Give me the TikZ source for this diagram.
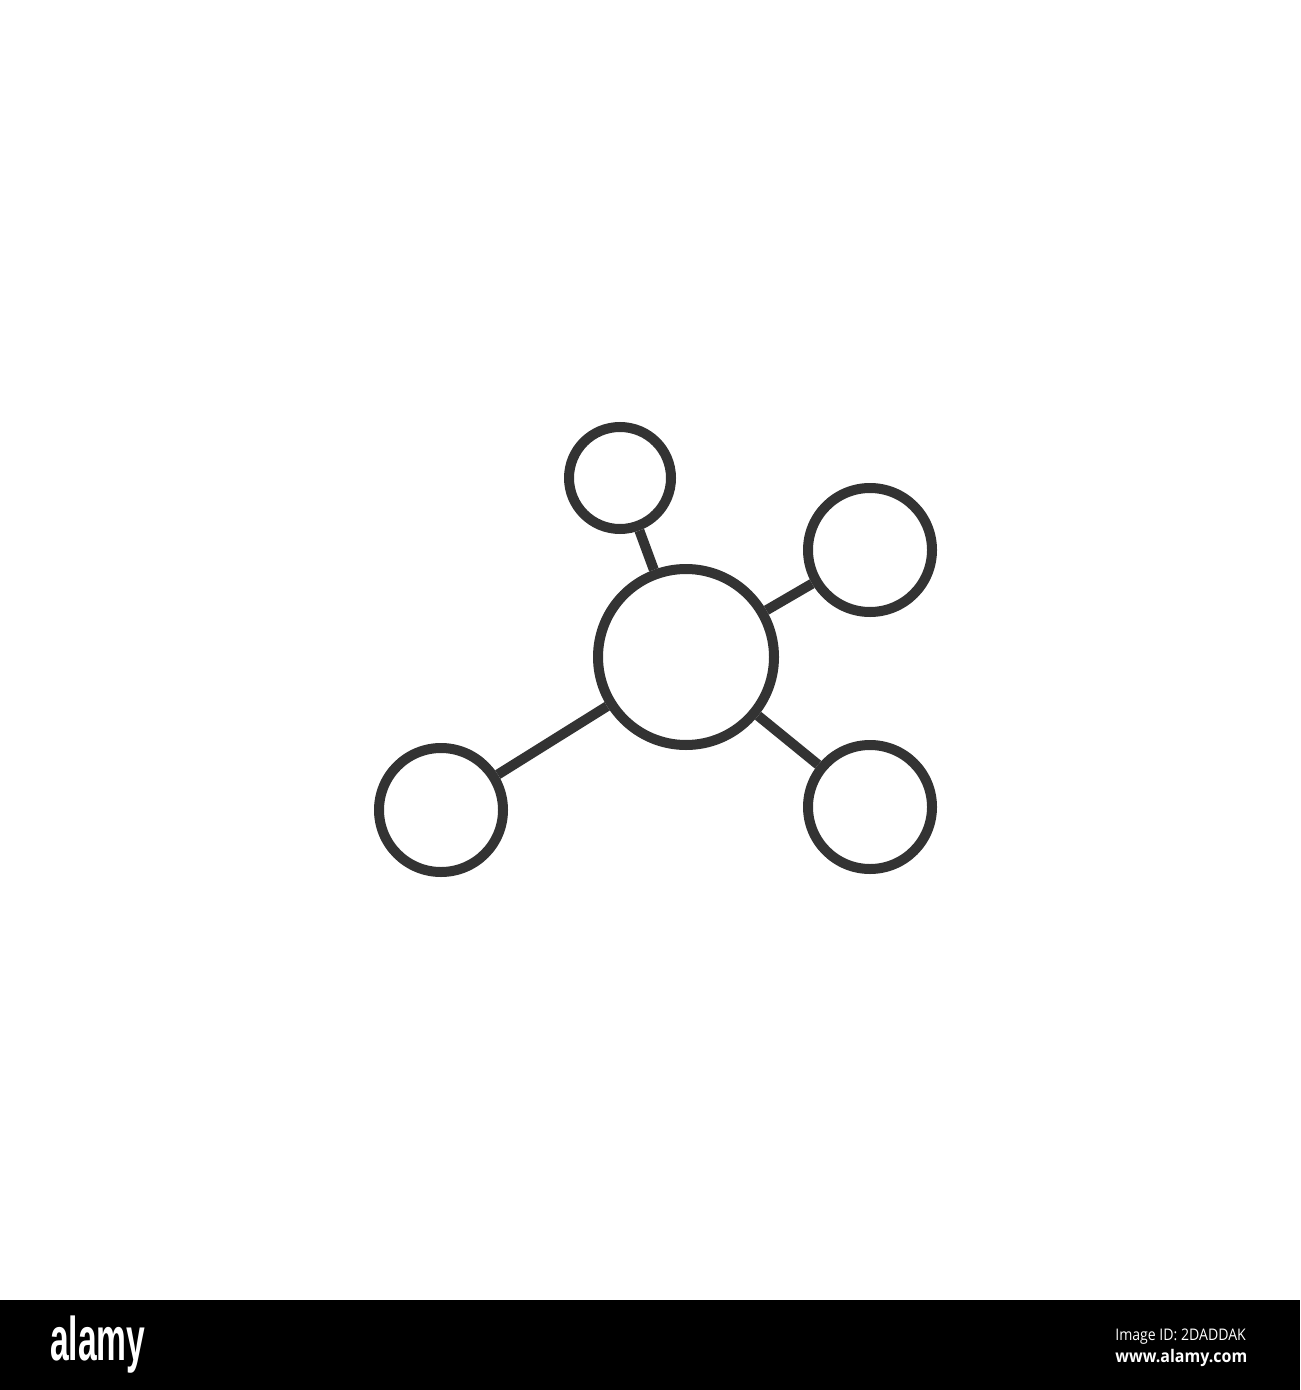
\documentclass[tikz,border=0pt]{standalone}
\usepackage{fontspec}
\setmainfont{Open Sans}
\newfontfamily\logofont{Liberation Sans}
\definecolor{ink}{HTML}{333333}
\begin{document}
\begin{tikzpicture}[x=0.5pt,y=-0.5pt,
  atom/.style={circle,draw=ink,line width=5pt,inner sep=0pt,fill=white},
  bond/.style={draw=ink,line width=5pt}]
\useasboundingbox (0,0) rectangle (1300,1390);
\fill[white] (0,0) rectangle (1300,1300);
\fill[black] (0,1300) rectangle (1300,1390);
\node[atom,minimum size=88pt] (c) at (686,657) {};
\node[atom,minimum size=51pt] (t) at (620,478) {};
\node[atom,minimum size=62pt] (r) at (870,550) {};
\node[atom,minimum size=62pt] (b) at (870,807) {};
\node[atom,minimum size=62pt] (l) at (441,810) {};
\draw[bond] (c) -- (t);
\draw[bond] (c) -- (r);
\draw[bond] (c) -- (b);
\draw[bond] (c) -- (l);
\node[anchor=base west,inner sep=0pt,text=white,xscale=0.6,yscale=1.1,font=\logofont\bfseries\fontsize{28pt}{28pt}\selectfont] (logo) at (50,1360) {alamy};
\node[anchor=base west,inner sep=0pt,text=white,xscale=0.88,font=\fontsize{8pt}{8pt}\selectfont] (id) at (1115,1340) {Image ID: 2DADDAK};
\node[anchor=base west,inner sep=0pt,text=white,xscale=0.92,font=\bfseries\fontsize{8.7pt}{8.7pt}\selectfont] (url) at (1115,1362) {www.alamy.com};
\end{tikzpicture}
\end{document}
